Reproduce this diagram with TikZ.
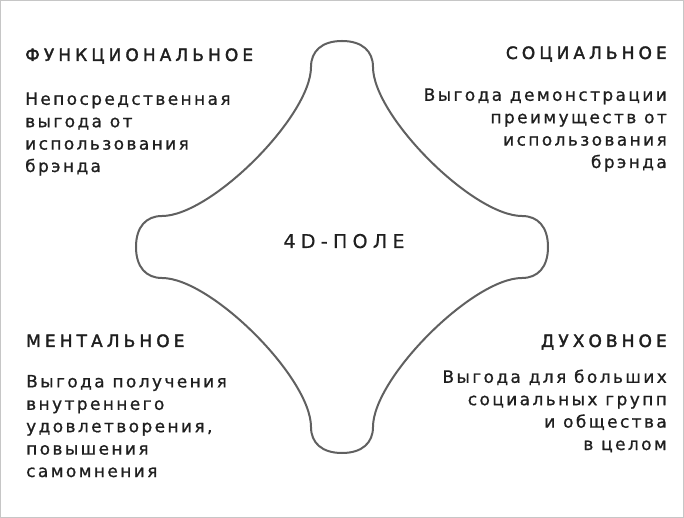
\documentclass[tikz,border=0pt]{standalone}
\usepackage{fontspec}
\setmainfont{DejaVu Sans}
\newfontfamily\bodyfont[LetterSpace=14,FakeBold=0.9]{DejaVu Sans}
\newfontfamily\headfont[LetterSpace=24,FakeBold=2]{DejaVu Sans}
\newfontfamily\fieldfont[LetterSpace=28,FakeBold=0.5]{DejaVu Sans}

\tikzset{
    head/.style = {font = \headfont\fontsize{17}{20}\selectfont, text = black!88, inner sep = 0pt},
    body/.style = {font = \bodyfont\fontsize{17}{22.4}\selectfont, text = black!88, inner sep = 0pt},
    star line/.style = {draw = gray!75!black, line width = 2pt},
    frame/.style = {draw = gray!45, line width = 0.8pt}
}

\begin{document}
\begin{tikzpicture}[x = 1pt, y = 1pt]
    \useasboundingbox (-342, 247) rectangle (342, -271);
    \draw [frame] (-341.5, 246.5) rectangle (341.5, -270.5); % Рамка

    % Звезда 4D-поля
    \draw [star line] (0, 206)
        .. controls (20, 206) and (31, 196) .. (31, 180)
        .. controls (31, 131) and (131, 31) .. (180, 31)
        .. controls (196, 31) and (206, 20) .. (206, 0)
        .. controls (206, -20) and (196, -31) .. (180, -31)
        .. controls (131, -31) and (31, -131) .. (31, -180)
        .. controls (31, -196) and (20, -206) .. (0, -206)
        .. controls (-20, -206) and (-31, -196) .. (-31, -180)
        .. controls (-31, -131) and (-131, -31) .. (-180, -31)
        .. controls (-196, -31) and (-206, -20) .. (-206, 0)
        .. controls (-206, 20) and (-196, 31) .. (-180, 31)
        .. controls (-131, 31) and (-31, 131) .. (-31, 180)
        .. controls (-31, 196) and (-20, 206) .. cycle;

    \node [font = \fieldfont\fontsize{19}{20}\selectfont, text = black!88, inner sep = 0pt, anchor = base]
        (field) at (2, -1) {4D-ПОЛЕ}; % Центр

    % Функциональное (base - последняя строка)
    \node [head, anchor = base west] (func) at (-317, 186) {ФУНКЦИОНАЛЬНОЕ};
    \node [body, anchor = base west, align = left] (functext) at (-317, 75)
        {Непосредственная\\выгода от\\использования\\брэнда};

    % Социальное
    \node [head, anchor = base east] (soc) at (325, 188) {СОЦИАЛЬНОЕ};
    \node [body, anchor = base east, align = right] (soctext) at (325, 79)
        {Выгода демонстрации\\преимуществ от\\использования\\брэнда};

    % Ментальное
    \node [head, anchor = base west] (ment) at (-316, -100) {МЕНТАЛЬНОЕ};
    \node [body, anchor = base west, align = left] (menttext) at (-316, -230)
        {Выгода получения\\внутреннего\\удовлетворения,\\повышения\\самомнения};

    % Духовное
    \node [head, anchor = base east] (spir) at (325, -100) {ДУХОВНОЕ};
    \node [body, anchor = base east, align = right] (spirtext) at (325, -203)
        {Выгода для больших\\социальных групп\\и общества\\в целом};
\end{tikzpicture}
\end{document}
